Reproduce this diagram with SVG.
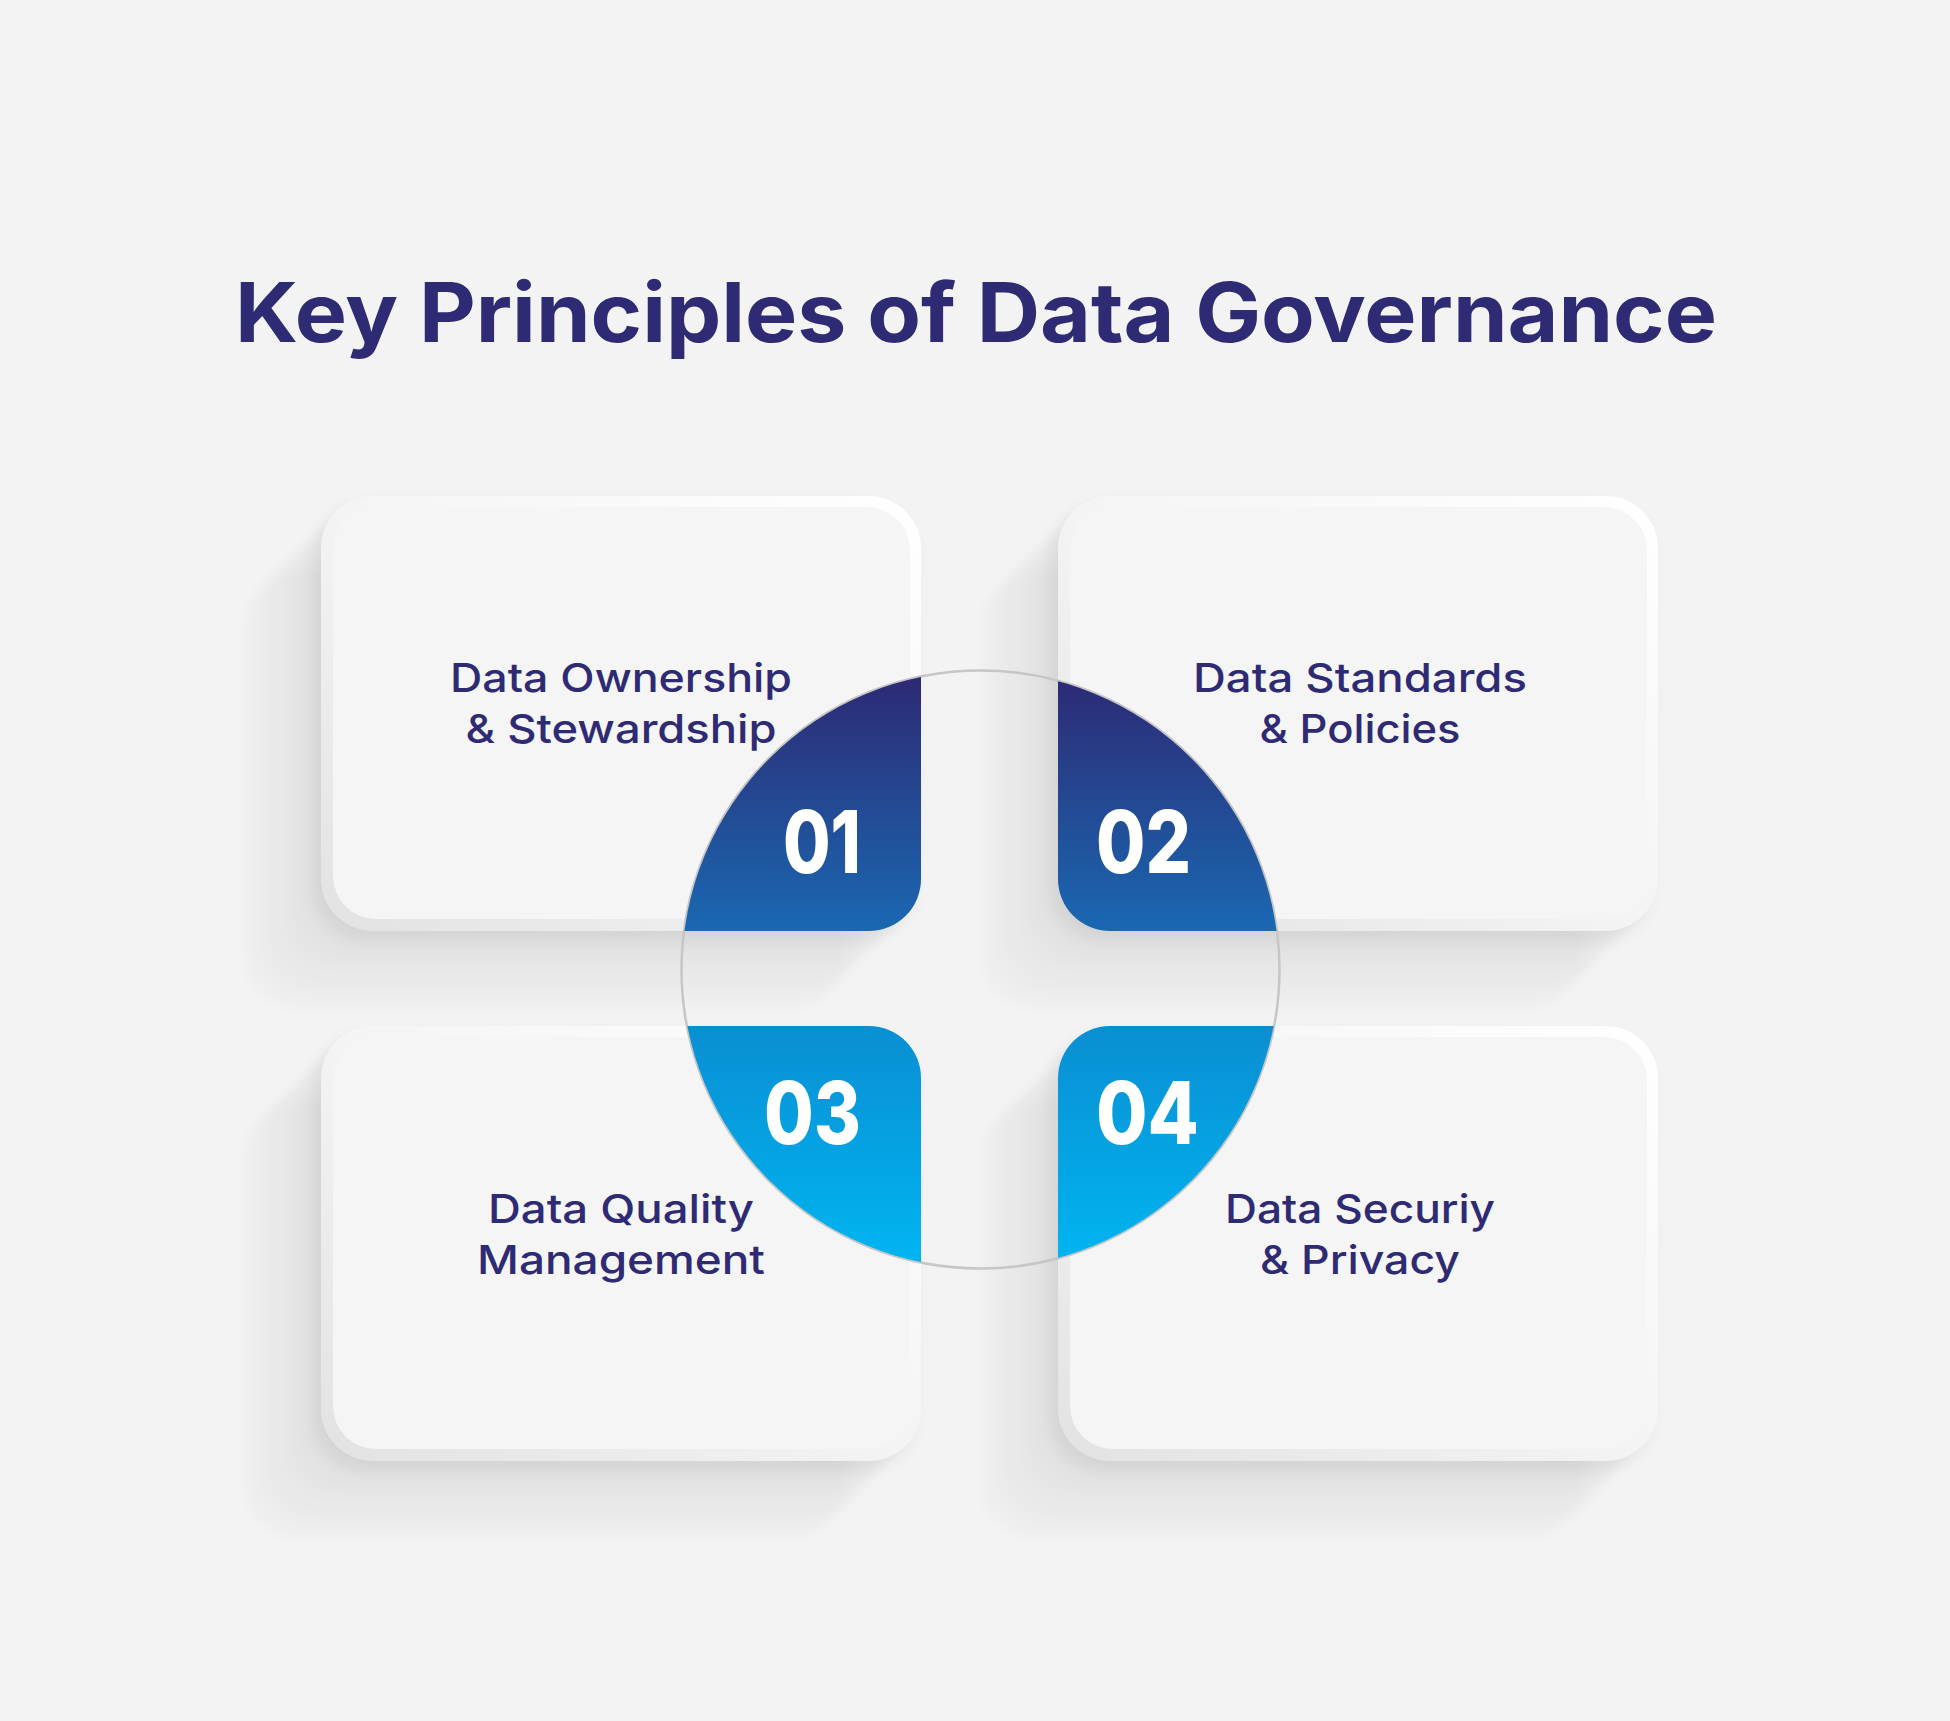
<svg xmlns="http://www.w3.org/2000/svg" width="1950" height="1721" viewBox="0 0 1950 1721">
  <style>
    .title { font-family: Inter, "Liberation Sans", sans-serif; font-weight: 700; font-size: 82px; fill: #2e2a74; }
    .label { font-family: Inter, "Liberation Sans", sans-serif; font-weight: 500; font-size: 40px; fill: #2e2a74; text-anchor: middle; }
    .num { font-family: Inter, "Liberation Sans", sans-serif; font-weight: 800; font-size: 86px; fill: #ffffff; }
    .ring { fill: url(#ringGrad); }
    .face { fill: #f5f5f5; }
    .sh { fill: #000000; opacity: 0.012; }
    .quad { fill: url(#quadGrad); }
  </style>
  <defs>
    <linearGradient id="ringGrad" x1="1" y1="0" x2="0" y2="1">
      <stop offset="0" stop-color="#ffffff"/>
      <stop offset="0.5" stop-color="#f4f4f4"/>
      <stop offset="1" stop-color="#e2e2e2"/>
    </linearGradient>
    <linearGradient id="quadGrad" gradientUnits="userSpaceOnUse" x1="0" y1="671" x2="0" y2="1268">
      <stop offset="0" stop-color="#2e2872"/>
      <stop offset="0.435" stop-color="#1a68b2"/>
      <stop offset="0.595" stop-color="#0a8ed3"/>
      <stop offset="1" stop-color="#00b6f1"/>
    </linearGradient>
    <filter id="blurSh" x="-30%" y="-30%" width="160%" height="160%">
      <feGaussianBlur stdDeviation="5"/>
    </filter>
    <filter id="blurNear" x="-30%" y="-30%" width="160%" height="160%">
      <feGaussianBlur stdDeviation="9"/>
    </filter>
    <clipPath id="clip1"><rect x="321" y="496" width="600" height="435" rx="52"/></clipPath>
    <clipPath id="clip2"><rect x="1058" y="496" width="600" height="435" rx="52"/></clipPath>
    <clipPath id="clip3"><rect x="321" y="1026" width="600" height="435" rx="52"/></clipPath>
    <clipPath id="clip4"><rect x="1058" y="1026" width="600" height="435" rx="52"/></clipPath>
    <g id="longShadow">
      <rect class="sh" x="-8" y="8" width="600" height="435" rx="52"/>
      <rect class="sh" x="-16" y="16" width="600" height="435" rx="52"/>
      <rect class="sh" x="-24" y="24" width="600" height="435" rx="52"/>
      <rect class="sh" x="-32" y="32" width="600" height="435" rx="52"/>
      <rect class="sh" x="-40" y="40" width="600" height="435" rx="52"/>
      <rect class="sh" x="-48" y="48" width="600" height="435" rx="52"/>
      <rect class="sh" x="-56" y="56" width="600" height="435" rx="52"/>
      <rect class="sh" x="-64" y="64" width="600" height="435" rx="52"/>
      <rect class="sh" x="-72" y="72" width="600" height="435" rx="52"/>
      <rect class="sh" x="-78" y="78" width="600" height="435" rx="52"/>
    </g>
    <g id="cardBody">
      <g filter="url(#blurSh)"><use href="#longShadow"/></g>
      <rect x="-6" y="8" width="600" height="435" rx="52" fill="#000" opacity="0.05" filter="url(#blurNear)"/>
      <rect class="ring" x="0" y="0" width="600" height="435" rx="52"/>
      <rect class="face" x="12" y="11" width="577" height="412" rx="43"/>
    </g>
  </defs>

  <rect x="0" y="0" width="1950" height="1721" fill="#f3f3f3"/>

  <g id="title">
    <text class="title" x="235" y="342" textLength="1482" lengthAdjust="spacingAndGlyphs">Key Principles of Data Governance</text>
  </g>

  <g id="card-1">
    <use href="#cardBody" x="321" y="496"/>
    <text class="label" x="621" y="692" textLength="342" lengthAdjust="spacingAndGlyphs">Data Ownership</text>
    <text class="label" x="621" y="743" textLength="311" lengthAdjust="spacingAndGlyphs">&amp; Stewardship</text>
  </g>
  <g id="card-2">
    <use href="#cardBody" x="1058" y="496"/>
    <text class="label" x="1360" y="692" textLength="334" lengthAdjust="spacingAndGlyphs">Data Standards</text>
    <text class="label" x="1360" y="743" textLength="201" lengthAdjust="spacingAndGlyphs">&amp; Policies</text>
  </g>
  <g id="card-3">
    <use href="#cardBody" x="321" y="1026"/>
    <text class="label" x="621" y="1223" textLength="266" lengthAdjust="spacingAndGlyphs">Data Quality</text>
    <text class="label" x="621" y="1274" textLength="288" lengthAdjust="spacingAndGlyphs">Management</text>
  </g>
  <g id="card-4">
    <use href="#cardBody" x="1058" y="1026"/>
    <text class="label" x="1360" y="1223" textLength="270" lengthAdjust="spacingAndGlyphs">Data Securiy</text>
    <text class="label" x="1360" y="1274" textLength="200" lengthAdjust="spacingAndGlyphs">&amp; Privacy</text>
  </g>

  <g id="connectors">
    <circle cx="980.5" cy="969.5" r="299" fill="none" stroke="#c6c6c6" stroke-width="2.5"/>
  </g>

  <g id="badge-01">
    <circle class="quad" cx="980.5" cy="969.5" r="298.5" clip-path="url(#clip1)"/>
    <text class="num" x="861" y="873" text-anchor="end" textLength="78" lengthAdjust="spacingAndGlyphs">01</text>
  </g>
  <g id="badge-02">
    <circle class="quad" cx="980.5" cy="969.5" r="298.5" clip-path="url(#clip2)"/>
    <text class="num" x="1096" y="873" text-anchor="start" textLength="95" lengthAdjust="spacingAndGlyphs">02</text>
  </g>
  <g id="badge-03">
    <circle class="quad" cx="980.5" cy="969.5" r="298.5" clip-path="url(#clip3)"/>
    <text class="num" x="861" y="1144" text-anchor="end" textLength="97" lengthAdjust="spacingAndGlyphs">03</text>
  </g>
  <g id="badge-04">
    <circle class="quad" cx="980.5" cy="969.5" r="298.5" clip-path="url(#clip4)"/>
    <text class="num" x="1096" y="1144" text-anchor="start" textLength="103" lengthAdjust="spacingAndGlyphs">04</text>
  </g>
</svg>
